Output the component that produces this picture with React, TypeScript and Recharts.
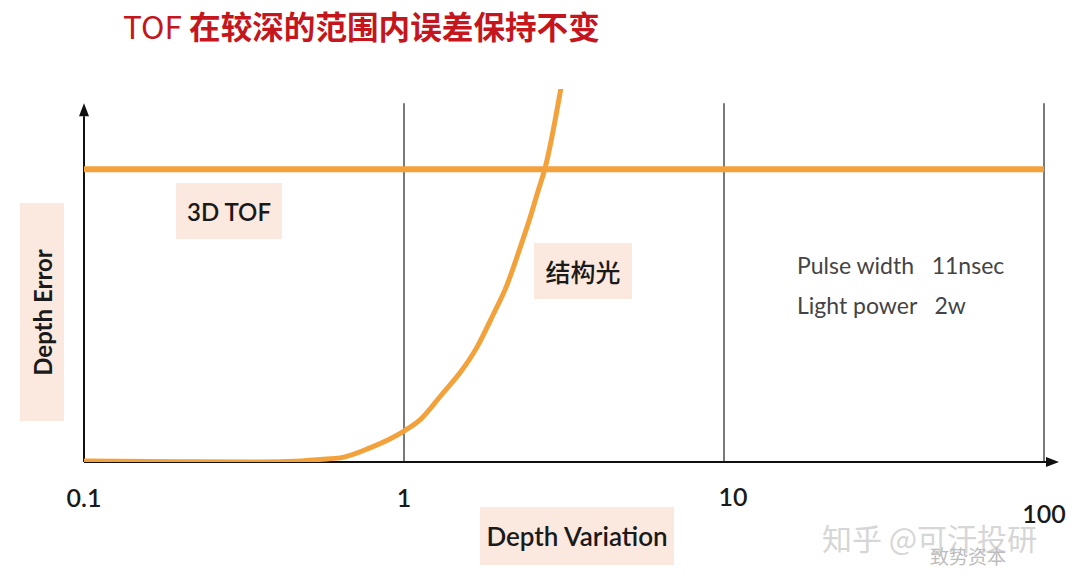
import React from 'react';
import { ComposedChart, Line, XAxis, YAxis, ReferenceLine } from 'recharts';

// depth variation (log scale) vs. depth error (relative units 0..100)
const xTicks = [0.1, 1, 10, 100];
const gridDepths = [1, 10, 100];
const gridTop = 96.2;
const axisEndX = 111.4;

const tofSeries = [
    { depth: 0.1, error: 78.5 },
    { depth: 100, error: 78.5 },
];

const structuredLightSeries = [
    { depth: 0.1, error: 0.3 },
    { depth: 0.2, error: 0.1 },
    { depth: 0.35, error: 0 },
    { depth: 0.48, error: 0.3 },
    { depth: 0.546, error: 0.7 },
    { depth: 0.631, error: 1.1 },
    { depth: 0.783, error: 3.8 },
    { depth: 1.0, error: 8.3 },
    { depth: 1.122, error: 11.3 },
    { depth: 1.324, error: 18.5 },
    { depth: 1.496, error: 23.9 },
    { depth: 1.691, error: 30.8 },
    { depth: 1.897, error: 39.4 },
    { depth: 2.099, error: 47.5 },
    { depth: 2.305, error: 57.4 },
    { depth: 2.475, error: 65.4 },
    { depth: 2.623, error: 72.6 },
    { depth: 2.758, error: 78.7 },
    { depth: 3.09, error: 100 },
];

const ORANGE = '#F2A13B';
const PEACH = '#FBE8DE';
const LABEL_FONT = 'Lato, "Noto Sans", sans-serif';

// small per-tick nudges, the source picture places them unevenly
const tickNudge: Record<string, [number, number]> = {
    '0.1': [0, 0],
    '1': [0, 0],
    '10': [9, -1],
    '100': [0, 16],
};

const DepthTick = (props: any) => {
    const { x, y, payload } = props;
    const key = String(payload.value);
    const [dx, dy] = tickNudge[key] || [0, 0];
    return (
        <text x={x + dx} y={y + 45 + dy} textAnchor="middle" fontFamily={LABEL_FONT} fontWeight={600} fontSize={25} fill="#1a1a1a">
            {key}
        </text>
    );
};

const ArrowLine = (props: any) => {
    const { x1, y1, x2, y2 } = props;
    const len = Math.hypot(x2 - x1, y2 - y1) || 1;
    const ux = (x2 - x1) / len;
    const uy = (y2 - y1) / len;
    const head = 13;
    const half = 5;
    const bx = x2 - ux * head;
    const by = y2 - uy * head;
    const pts = `${x2},${y2} ${bx - uy * half},${by + ux * half} ${bx + uy * half},${by - ux * half}`;
    return (
        <g>
            <line x1={x1} y1={y1} x2={bx} y2={by} stroke="#111" strokeWidth={2} />
            <polygon points={pts} fill="#111" />
        </g>
    );
};

const box = (left: number, top: number, width: number, height: number): React.CSSProperties => ({
    position: 'absolute',
    left,
    top,
    width,
    height,
    background: PEACH,
    display: 'flex',
    alignItems: 'center',
    justifyContent: 'center',
    color: '#1a1a1a',
});

export default function App() {
    return (
        <div style={{ position: 'absolute', left: 0, top: 0, width: 1080, height: 579, background: '#fff', overflow: 'hidden' }}>
            <div
                style={{
                    position: 'absolute',
                    left: 123,
                    top: 5,
                    fontFamily: '"Noto Sans CJK SC", sans-serif',
                    fontWeight: 700,
                    fontSize: 31.6,
                    color: '#C4161C',
                    whiteSpace: 'nowrap',
                    lineHeight: '40px',
                }}
            >
                <span style={{ fontWeight: 400 }}>TOF </span>在较深的范围内误差保持不变
            </div>

            <div style={box(20, 203, 44, 218)}>
                <div style={{ transform: 'rotate(-90deg)', whiteSpace: 'nowrap', fontFamily: LABEL_FONT, fontWeight: 700, fontSize: 24 }}>
                    Depth Error
                </div>
            </div>
            <div style={box(176, 183, 106, 56)}>
                <span style={{ fontFamily: LABEL_FONT, fontWeight: 600, fontSize: 24 }}>3D TOF</span>
            </div>
            <div style={box(534, 243, 98, 56)}>
                <span style={{ fontFamily: '"Noto Sans CJK SC", sans-serif', fontWeight: 500, fontSize: 25 }}>结构光</span>
            </div>
            <div style={box(480, 507, 194, 58)}>
                <span style={{ fontFamily: LABEL_FONT, fontWeight: 600, fontSize: 26 }}>Depth Variation</span>
            </div>

            <div
                style={{
                    position: 'absolute',
                    left: 797,
                    top: 245,
                    fontFamily: LABEL_FONT,
                    fontSize: 23,
                    color: '#444',
                    lineHeight: '40px',
                    whiteSpace: 'pre',
                }}
            >
                <div>{'Pulse width   11nsec'}</div>
                <div>{'Light power   2w'}</div>
            </div>

            <div
                style={{
                    position: 'absolute',
                    left: 822,
                    top: 519,
                    fontFamily: '"Noto Sans CJK SC", sans-serif',
                    fontSize: 30,
                    color: '#d6d6d6',
                    whiteSpace: 'nowrap',
                    lineHeight: '36px',
                }}
            >
                知乎 @可汗投研
            </div>
            <div
                style={{
                    position: 'absolute',
                    left: 930,
                    top: 544,
                    fontFamily: '"Noto Sans CJK SC", sans-serif',
                    fontSize: 19,
                    color: '#bdbdbd',
                    whiteSpace: 'nowrap',
                    lineHeight: '24px',
                }}
            >
                致势资本
            </div>

            <div style={{ position: 'absolute', left: 0, top: 0 }}>
                <ComposedChart width={1080} height={579} margin={{ top: 89, right: 36, bottom: 77, left: 84 }}>
                    <XAxis
                        type="number"
                        dataKey="depth"
                        scale="log"
                        domain={[0.1, 100]}
                        ticks={xTicks}
                        allowDataOverflow
                        axisLine={false}
                        tickLine={false}
                        tickSize={0}
                        tickMargin={0}
                        height={40}
                        interval={0}
                        tick={<DepthTick />}
                    />
                    <YAxis type="number" domain={[0, 100]} hide allowDataOverflow />

                    {gridDepths.map((d) => (
                        <ReferenceLine
                            key={d}
                            segment={[
                                { x: d, y: 0 },
                                { x: d, y: gridTop },
                            ]}
                            stroke="#4d4d4d"
                            strokeWidth={1.5}
                            ifOverflow="visible"
                        />
                    ))}
                    <ReferenceLine
                        segment={[
                            { x: 0.1, y: 0 },
                            { x: 0.1, y: gridTop },
                        ]}
                        ifOverflow="visible"
                        shape={<ArrowLine />}
                    />
                    <ReferenceLine
                        segment={[
                            { x: 0.1, y: 0 },
                            { x: axisEndX, y: 0 },
                        ]}
                        ifOverflow="visible"
                        shape={<ArrowLine />}
                    />

                    <Line
                        data={tofSeries}
                        dataKey="error"
                        type="linear"
                        stroke={ORANGE}
                        strokeWidth={6}
                        dot={false}
                        isAnimationActive={false}
                    />
                    <Line
                        data={structuredLightSeries}
                        dataKey="error"
                        type="monotone"
                        stroke={ORANGE}
                        strokeWidth={5}
                        strokeLinecap="round"
                        dot={false}
                        isAnimationActive={false}
                    />
                </ComposedChart>
            </div>
        </div>
    );
}
